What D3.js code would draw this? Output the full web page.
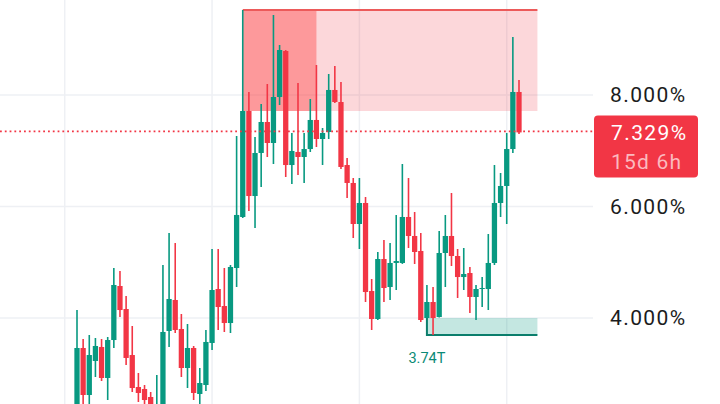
<!DOCTYPE html>
<html><head><meta charset="utf-8">
<script src="https://cdn.jsdelivr.net/npm/d3@7"></script>
<style>html,body{margin:0;padding:0;background:#fff;overflow:hidden}svg{display:block}</style>
</head><body>
<svg id="c" width="720" height="404"></svg>
<script>
// ---- data (percent yield, one candle per period) ----
const open  = [2.35,3.462,2.619,3.229,3.480,2.924,3.605,4.574,4.161,3.336,2.762,2.726,2.583,2.25,2.40,3.767,4.323,3.803,3.103,3.462,2.637,2.798,3.552,4.520,4.215,3.910,4.897,5.812,7.713,6.188,6.960,7.516,7.139,7.964,8.789,6.744,6.978,6.888,7.031,7.552,7.211,7.336,8.090,7.874,6.744,6.422,5.686,6.063,4.484,3.982,5.058,4.556,4.987,4.987,5.812,5.471,5.202,4.000,4.287,4.018,5.166,5.471,5.112,4.735,4.807,4.377,4.520,4.520,4.987,6.063,6.368,7.031,8.054];
const high  = [4.143,3.623,3.695,3.641,3.623,3.659,4.897,4.843,4.395,3.857,3.013,2.798,2.673,2.978,4.951,5.525,5.345,4.072,3.892,3.498,3.103,3.785,5.238,5.238,4.897,4.951,7.265,9.525,8.054,7.247,7.839,8.197,9.435,8.897,8.807,7.318,8.215,7.318,7.928,8.538,7.408,8.377,8.520,8.233,6.870,6.511,6.511,6.170,4.700,5.184,5.399,5.345,5.848,6.762,6.511,5.901,5.525,4.592,4.556,5.561,5.848,6.242,5.238,5.256,4.915,4.592,4.735,5.507,6.744,6.601,7.318,9.040,8.269];
const low   = [2.17,2.42,2.40,2.942,2.870,2.529,3.462,4.018,3.157,2.673,2.493,2.35,2.31,2.15,2.30,3.480,3.731,2.942,2.744,2.529,2.44,2.691,3.426,3.785,3.749,3.731,4.556,5.794,5.919,5.614,6.350,6.888,6.762,7.821,6.529,6.404,6.565,6.422,6.978,7.067,6.744,7.211,7.857,6.673,6.152,5.435,5.238,4.287,3.785,3.964,4.287,4.323,4.502,4.97,5.256,4.969,3.928,3.99,3.695,4.01,4.556,4.933,4.359,4.502,4.090,3.964,4.197,4.143,4.951,5.812,5.686,6.960,7.300];
const close = [3.462,2.619,3.336,3.498,2.924,3.605,4.592,4.143,3.283,2.744,2.655,2.529,2.40,2.42,3.749,4.341,3.785,3.103,3.462,2.655,2.834,3.570,4.502,4.197,3.910,4.915,5.848,7.713,6.188,6.960,7.516,7.139,7.964,8.807,6.744,6.996,6.888,7.031,7.552,7.211,7.318,8.090,7.874,6.709,6.422,5.686,6.063,4.466,3.982,5.058,4.538,4.987,5.022,5.812,5.471,5.184,3.964,4.287,4.000,5.166,5.471,5.112,4.735,4.789,4.377,4.520,4.538,4.987,6.063,6.368,7.031,8.054,7.329];
const bars = open.map((d, i) => i);                 // bar index categories
const priceTicks = [4, 6, 8];                        // y tick values
const timeGridBars = [-2, 22, 46, 70];               // vertical grid bar indices
const lastPrice = 7.329;
const countdown = "15d 6h";
const supplyZone = {from: 27, to: 75, splitAt: 39, top: 9.525, bottom: 7.713};
const demandZone = {from: 57, to: 75, top: 4.000, bottom: 3.695, label: "3.74T"};

const GREEN = "#089981", RED = "#F23645";
const svg = d3.select("#c");
const x = d3.scaleLinear().domain([0, 72]).range([77, 519]);
const y = d3.scaleLinear().domain([4, 8]).range([318, 95]);
const step = x(1) - x(0);
const bw = step * 0.86;
const plotRight = 593;

// grid
const grid = svg.append("g");
grid.selectAll("line.h").data(priceTicks).join("line")
  .attr("x1", 0).attr("x2", plotRight)
  .attr("y1", d => y(d)).attr("y2", d => y(d))
  .attr("stroke", "#eef0f4").attr("stroke-width", 1.5);
grid.selectAll("line.v").data(timeGridBars).join("line")
  .attr("x1", d => x(d)).attr("x2", d => x(d))
  .attr("y1", 0).attr("y2", 404)
  .attr("stroke", "#eef0f4").attr("stroke-width", 1.5);

// supply zone
svg.append("rect")
  .attr("x", x(supplyZone.from)).attr("y", y(supplyZone.top))
  .attr("width", x(supplyZone.to) - x(supplyZone.from))
  .attr("height", y(supplyZone.bottom) - y(supplyZone.top))
  .attr("fill", "rgba(242,54,69,0.2)");
svg.append("rect")
  .attr("x", x(supplyZone.from)).attr("y", y(supplyZone.top))
  .attr("width", x(supplyZone.splitAt) - x(supplyZone.from))
  .attr("height", y(supplyZone.bottom) - y(supplyZone.top))
  .attr("fill", "rgba(255,80,80,0.46)");
svg.append("line")
  .attr("x1", x(supplyZone.from)).attr("x2", x(supplyZone.to))
  .attr("y1", y(supplyZone.top)).attr("y2", y(supplyZone.top))
  .attr("stroke", "#ec5a5a").attr("stroke-width", 2);

// demand zone
svg.append("rect")
  .attr("x", x(demandZone.from)).attr("y", y(demandZone.top))
  .attr("width", x(demandZone.to) - x(demandZone.from))
  .attr("height", y(demandZone.bottom) - y(demandZone.top))
  .attr("fill", "rgba(8,153,129,0.24)");
svg.append("path")
  .attr("d", `M${x(demandZone.from)},${y(demandZone.top)}V${y(demandZone.bottom)}H${x(demandZone.to)}`)
  .attr("fill", "none").attr("stroke", "#0b7e6c").attr("stroke-width", 2);
svg.append("text")
  .attr("x", x(demandZone.from)).attr("y", y(demandZone.bottom) + 28)
  .attr("text-anchor", "middle")
  .attr("font-family", "Roboto, sans-serif").attr("font-size", 14.5)
  .attr("fill", "#0b8a76").text(demandZone.label);

// candles
const c = svg.append("g");
c.selectAll("line").data(bars).join("line")
  .attr("x1", i => x(i)).attr("x2", i => x(i))
  .attr("y1", i => y(high[i])).attr("y2", i => y(low[i]))
  .attr("stroke", i => close[i] >= open[i] ? GREEN : RED).attr("stroke-width", 1.6);
c.selectAll("rect").data(bars).join("rect")
  .attr("x", i => x(i) - bw / 2).attr("width", bw)
  .attr("y", i => y(Math.max(open[i], close[i])))
  .attr("height", i => Math.max(1, Math.abs(y(open[i]) - y(close[i]))))
  .attr("fill", i => close[i] >= open[i] ? GREEN : RED);

// last price line
svg.append("line")
  .attr("x1", 0).attr("x2", plotRight)
  .attr("y1", y(lastPrice) - 1).attr("y2", y(lastPrice) - 1)
  .attr("stroke", RED).attr("stroke-width", 1.8).attr("stroke-dasharray", "1.8,3");

// price axis
const axis = svg.append("g").attr("transform", `translate(610,0)`)
  .call(d3.axisRight(y).tickValues(priceTicks).tickSize(0).tickPadding(0)
    .tickFormat(d => d3.format(".3f")(d) + "%"));
axis.select(".domain").remove();
axis.selectAll("text").attr("font-family", "Roboto, sans-serif").attr("font-size", 21)
  .attr("letter-spacing", 1.4).attr("fill", "#1b1c20");

// last price label
svg.append("rect").attr("x", 594).attr("y", y(lastPrice) - 17).attr("width", 104).attr("height", 62)
  .attr("rx", 4).attr("fill", RED);
svg.append("text").attr("x", 611).attr("y", y(lastPrice) + 7.5)
  .attr("font-family", "Roboto, sans-serif").attr("font-size", 21).attr("letter-spacing", 1.4)
  .attr("fill", "#ffffff").text(d3.format(".3f")(lastPrice) + "%");
svg.append("text").attr("x", 611).attr("y", y(lastPrice) + 36.5)
  .attr("font-family", "Roboto, sans-serif").attr("font-size", 21).attr("letter-spacing", 1.2)
  .attr("fill", "#fbb9be").text(countdown);
</script>
</body></html>
